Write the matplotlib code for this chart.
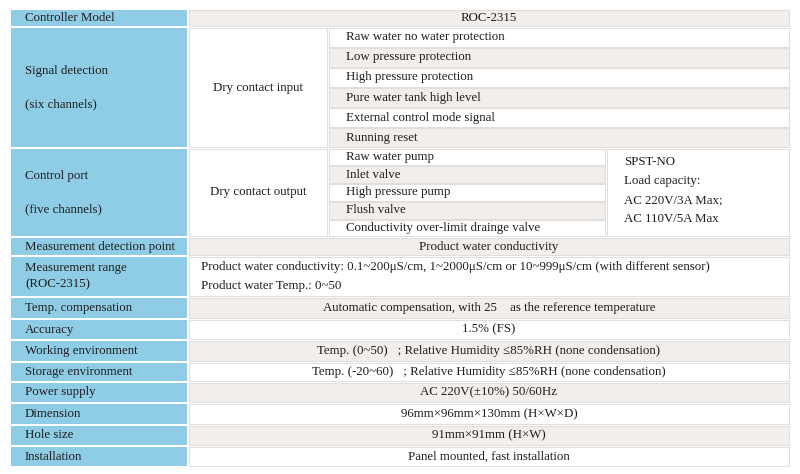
import matplotlib.pyplot as plt
from matplotlib.patches import Rectangle

BLUE = "#8fcde6"
LIGHT = "#f2eeec"
WHITE = "#ffffff"
LINE = "#e2dedc"

# left column labels with row spans (top, bottom in px)
left_labels = ["Controller Model", "Signal detection\n\n(six channels)", "Control port\n\n(five channels)",
               "Measurement detection point", "Measurement range\n(ROC-2315)", "Temp. compensation",
               "Accuracy", "Working environment", "Storage environment", "Power supply",
               "Dimension", "Hole size", "Installation"]
row_edges = [9, 27, 148, 237, 256, 297, 319, 340, 362, 382, 403, 425, 446, 467]

signal_items = ["Raw water no water protection", "Low pressure protection", "High pressure protection",
                "Pure water tank high level", "External control mode signal", "Running reset"]
control_items = ["Raw water pump", "Inlet valve", "High pressure pump", "Flush valve",
                 "Conductivity over-limit drainge valve"]
load_text = "SPST-NO\nLoad capacity:\nAC 220V/3A Max;\nAC 110V/5A Max"

single_values = {0: "ROC-2315", 3: "Product water conductivity",
                 5: "Automatic compensation, with 25\u2103 as the reference temperature",
                 6: "1.5% (FS)",
                 7: "Temp. (0~50)\u2103; Relative Humidity \u226485%RH (none condensation)",
                 8: "Temp. (-20~60)\u2103; Relative Humidity \u226485%RH (none condensation)",
                 9: "AC 220V(\u00b110%) 50/60Hz",
                 10: "96mm\u00d796mm\u00d7130mm (H\u00d7W\u00d7D)",
                 11: "91mm\u00d791mm (H\u00d7W)",
                 12: "Panel mounted, fast installation"}
range_text = ("Product water conductivity: 0.1~200\u03bcS/cm, 1~2000\u03bcS/cm or 10~999\u03bcS/cm (with different sensor)\n"
              "Product water Temp.: 0~50\u2103")

plt.rcParams["font.family"] = ["Liberation Serif", "Noto Sans CJK SC"]
FS = 9.3
TC = "#1e1e1e"
fig = plt.figure(figsize=(8, 4.74), dpi=100)
ax = fig.add_axes([0, 0, 1, 1])
ax.set_xlim(0, 800)
ax.set_ylim(474, 0)
ax.axis("off")

X0, X1, X2, X3, X4 = 10, 188, 328, 606, 790
G = 1.2  # white gap


def cell(x0, y0, x1, y1, color, edge=LINE):
    ax.add_patch(Rectangle((x0 + G / 2, y0 + G / 2), x1 - x0 - G, y1 - y0 - G,
                           facecolor=color, edgecolor=edge, linewidth=0.8))


for i, lab in enumerate(left_labels):
    y0, y1 = row_edges[i], row_edges[i + 1]
    cell(X0, y0, X1, y1, BLUE, edge="none")
    ax.text(X0 + 15, (y0 + y1) / 2, lab, va="center", ha="left", fontsize=FS, color=TC,
            linespacing=1.5)
    if i in single_values:
        cell(X1, y0, X4, y1, LIGHT if i % 2 == 1 or i == 0 else WHITE)
        ax.text((X1 + X4) / 2, (y0 + y1) / 2, single_values[i], va="center", ha="center",
                fontsize=FS, color=TC)

# signal detection
y0, y1 = row_edges[1], row_edges[2]
cell(X1, y0, X2, y1, WHITE)
ax.text((X1 + X2) / 2, (y0 + y1) / 2, "Dry contact input", ha="center", va="center", fontsize=FS, color=TC)
h = (y1 - y0) / len(signal_items)
for k, t in enumerate(signal_items):
    cell(X2, y0 + k * h, X4, y0 + (k + 1) * h, WHITE if k % 2 == 0 else LIGHT)
    ax.text(X2 + 18, y0 + (k + 0.5) * h, t, va="center", fontsize=FS, color=TC)

# control port
y0, y1 = row_edges[2], row_edges[3]
cell(X1, y0, X2, y1, WHITE)
ax.text((X1 + X2) / 2, (y0 + y1) / 2, "Dry contact output", ha="center", va="center", fontsize=FS, color=TC)
h = (y1 - y0) / len(control_items)
for k, t in enumerate(control_items):
    cell(X2, y0 + k * h, X3, y0 + (k + 1) * h, WHITE if k % 2 == 0 else LIGHT)
    ax.text(X2 + 18, y0 + (k + 0.5) * h, t, va="center", fontsize=FS, color=TC)
cell(X3, y0, X4, y1, WHITE)
ax.text(X3 + 18, (y0 + y1) / 2 - 2, load_text, va="center", fontsize=FS, linespacing=1.75, color=TC)

# measurement range
y0, y1 = row_edges[4], row_edges[5]
cell(X1, y0, X4, y1, WHITE)
ax.text(X1 + 13, (y0 + y1) / 2, range_text, va="center", fontsize=FS, linespacing=1.7, color=TC)

fig.savefig("out.png", dpi=100, facecolor="white")
